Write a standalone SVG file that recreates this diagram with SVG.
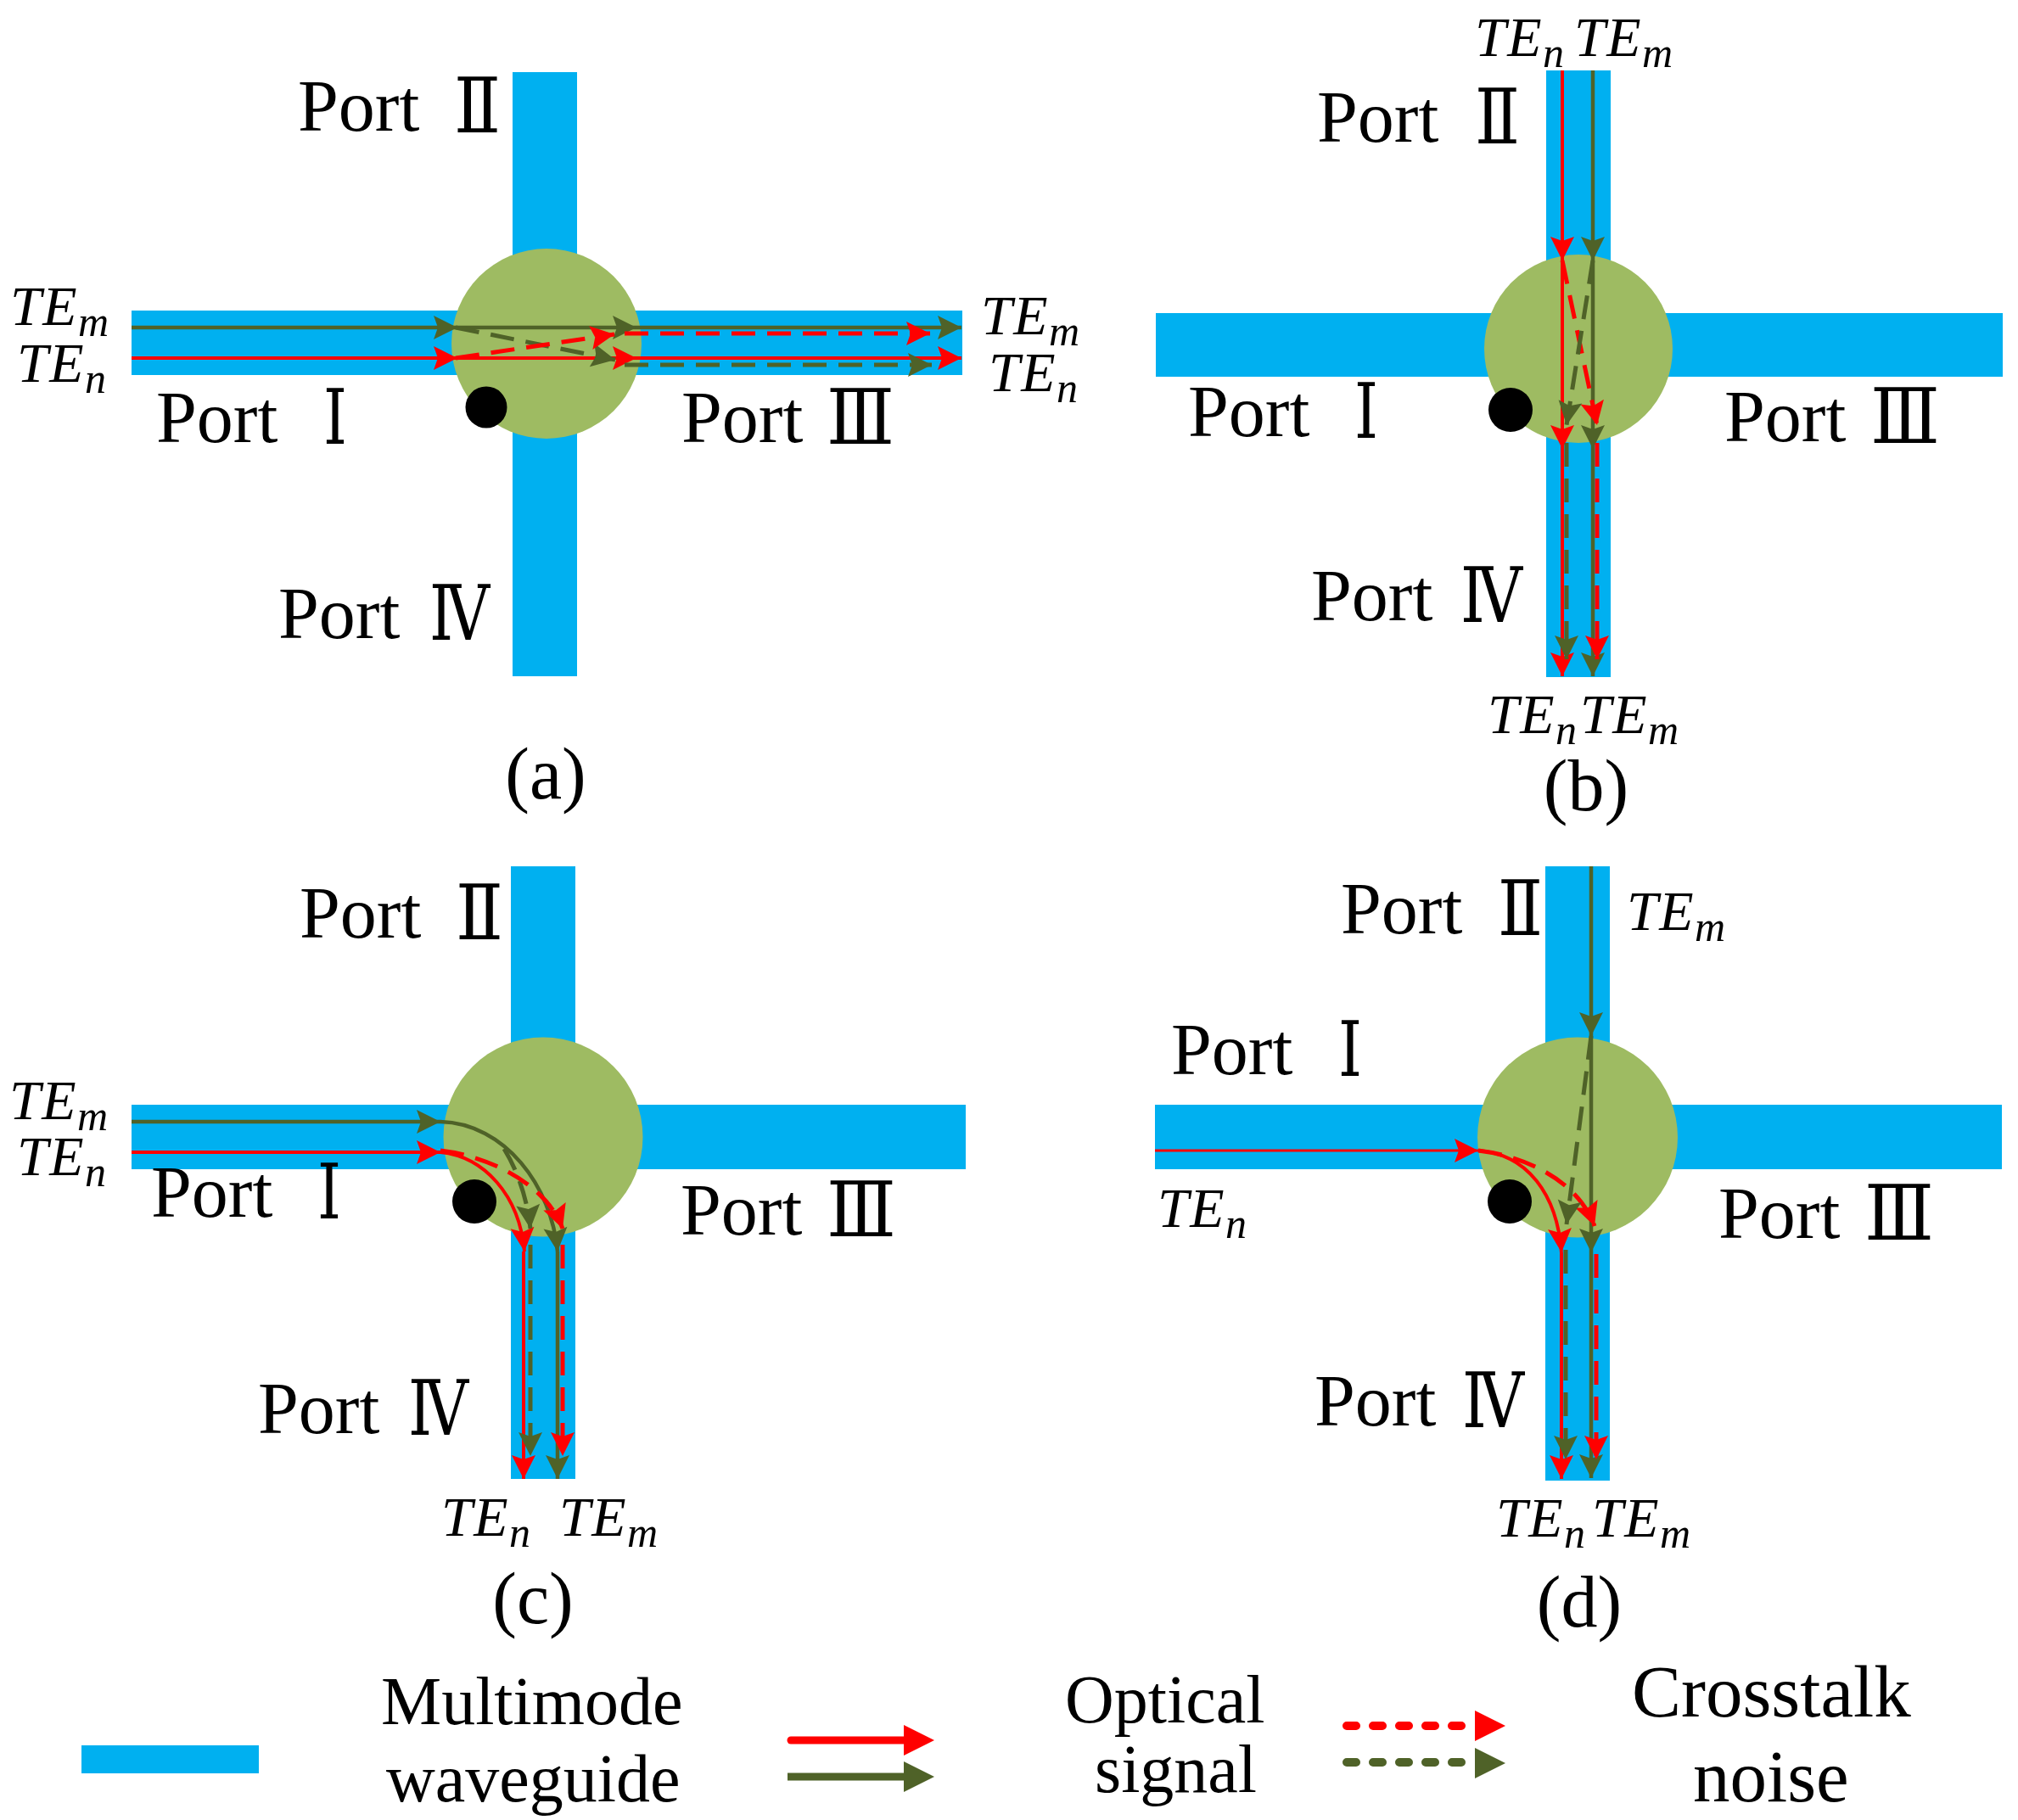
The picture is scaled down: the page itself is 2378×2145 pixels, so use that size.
<svg xmlns="http://www.w3.org/2000/svg" width="2378" height="2145" viewBox="0 0 2378 2145">
<style>
.wg{fill:#00B0F0}
.ring{fill:#9EBB62}
.dot{fill:#000}
.p{font-family:"Liberation Serif","Times New Roman",serif;font-size:86px;fill:#000}
.n{font-family:"DejaVu Serif","Liberation Serif",serif;font-size:90px;fill:#000}
.l{font-family:"Liberation Serif","Times New Roman",serif;font-size:80px;fill:#000}
.lb{font-size:87px}
.t{font-family:"Liberation Serif","Times New Roman",serif;font-style:italic;font-size:66px;letter-spacing:1.5px;fill:#000}
.s{font-size:50px}
.c{fill:none}
.r{stroke:#FF0000;stroke-width:4}
.g{stroke:#4F6228;stroke-width:4.5}
.rd{stroke:#FF0000;stroke-width:5;stroke-dasharray:28 14}
.gd{stroke:#4F6228;stroke-width:5;stroke-dasharray:28 14}
.ra{marker-end:url(#hr)}
.ga{marker-end:url(#hg)}
</style>
<defs>
<marker id="hr" markerUnits="userSpaceOnUse" markerWidth="32" markerHeight="30" refX="28" refY="15" orient="auto" overflow="visible"><path d="M0,1 L28,15 L0,29 L5,15Z" fill="#FF0000"/></marker>
<marker id="hg" markerUnits="userSpaceOnUse" markerWidth="32" markerHeight="30" refX="28" refY="15" orient="auto" overflow="visible"><path d="M0,1 L28,15 L0,29 L5,15Z" fill="#4F6228"/></marker>
<marker id="lr" markerUnits="userSpaceOnUse" markerWidth="40" markerHeight="40" refX="0" refY="18" orient="auto" overflow="visible"><path d="M0,0 L36,18 L0,36 Z" fill="#FF0000"/></marker>
<marker id="lg" markerUnits="userSpaceOnUse" markerWidth="40" markerHeight="40" refX="0" refY="18" orient="auto" overflow="visible"><path d="M0,0 L36,18 L0,36 Z" fill="#4F6228"/></marker>
</defs>
<rect width="2378" height="2145" fill="#fff"/>

<g id="panel-a-crossing">
<rect class="wg" x="155" y="366" width="979" height="76"/>
<rect class="wg" x="604" y="85" width="76" height="712"/>
<circle class="ring" cx="644" cy="405" r="112"/>
<circle class="dot" cx="573" cy="480" r="24.5"/>
</g>
<g id="panel-b-crossing">
<rect class="wg" x="1362" y="369" width="998" height="75"/>
<rect class="wg" x="1822" y="83" width="76" height="715"/>
<circle class="ring" cx="1860" cy="411" r="111"/>
<circle class="dot" cx="1780" cy="483" r="26"/>
</g>
<g id="panel-c-crossing">
<rect class="wg" x="155" y="1302" width="983" height="76"/>
<rect class="wg" x="602" y="1021" width="76" height="722"/>
<circle class="ring" cx="640" cy="1340" r="117.5"/>
<circle class="dot" cx="559" cy="1416" r="26"/>
</g>
<g id="panel-d-crossing">
<rect class="wg" x="1361" y="1302" width="998" height="76"/>
<rect class="wg" x="1821" y="1021" width="76" height="724"/>
<circle class="ring" cx="1859" cy="1340.5" r="118"/>
<circle class="dot" cx="1779" cy="1416" r="26"/>
</g>

<g id="connectors">
<g class="c">
<path class="g ga" d="M155,386H539"/><path class="g ga" d="M539,386H750"/><path class="g ga" d="M750,386H1133"/>
<path class="r ra" d="M155,422H539"/><path class="r ra" d="M539,422H750"/><path class="r ra" d="M750,422H1133"/>
<path class="gd ga" d="M537,386L725,424"/><path class="rd ra" d="M537,422L724,394"/>
<path class="rd ra" d="M736,393H1096"/><path class="gd ga" d="M736,430H1098"/>

<path class="r ra" d="M1841,83V307"/><path class="r ra" d="M1841,307V529"/><path class="r ra" d="M1841,529V797"/>
<path class="g ga" d="M1877,83V307"/><path class="g ga" d="M1877,307V529"/><path class="g ga" d="M1877,529V797"/>
<path class="rd ra" d="M1841,307L1882,501"/><path class="gd ga" d="M1877,307L1846,501"/>
<path class="gd ga" d="M1846,522V777"/><path class="rd ra" d="M1882,522V777"/>

<path class="g ga" d="M155,1322H519"/><path class="r ra" d="M155,1358H519"/>
<path class="g ga" d="M519,1322C595,1324 650,1398 657,1475"/><path class="g ga" d="M657,1475V1743"/>
<path class="r ra" d="M519,1358C570,1363 612,1408 618,1475"/><path class="r ra" d="M617,1475V1743"/>
<path class="gd ga" d="M594,1354C612,1383 622,1418 625,1448"/><path class="gd ga" d="M625,1467V1716"/>
<path class="rd ra" d="M519,1356C580,1363 645,1398 663,1448"/><path class="rd ra" d="M663,1467V1716"/>

<path class="g ga" d="M1875,1021V1221"/><path class="g ga" d="M1875,1221V1476"/><path class="g ga" d="M1875,1476V1742"/>
<path class="r ra" style="stroke-width:3" d="M1361,1356H1742"/>
<path class="r ra" d="M1742,1356C1800,1360 1835,1408 1840,1476"/><path class="r ra" d="M1840,1476V1743"/>
<path class="rd ra" d="M1742,1356C1800,1363 1860,1393 1879,1445"/><path class="rd ra" d="M1881,1478V1720"/>
<path class="gd ga" d="M1875,1221L1846,1443"/><path class="gd ga" d="M1845,1473V1720"/>

<path stroke="#FF0000" stroke-width="9" stroke-linecap="round" marker-end="url(#lr)" d="M932,2051H1065"/>
<path stroke="#4F6228" stroke-width="9" marker-end="url(#lg)" d="M928,2094H1065"/>
<path stroke="#FF0000" stroke-width="10" stroke-linecap="round" stroke-dasharray="11 20" d="M1587,2034H1727"/>
<path stroke="#4F6228" stroke-width="10" stroke-linecap="round" stroke-dasharray="11 20" d="M1587,2077H1727"/>
<path stroke="#FF0000" stroke-width="0" marker-end="url(#lr)" d="M1727,2034H1738"/>
<path stroke="#4F6228" stroke-width="0" marker-end="url(#lg)" d="M1727,2078H1738"/>
</g>
</g>

<g id="legend-swatch"><rect class="wg" x="96" y="2057" width="209" height="33"/></g>

<g id="labels-a">
<text class="p" x="351" y="154">Port</text><text class="n" x="535" y="156" textLength="55" lengthAdjust="spacingAndGlyphs">Ⅱ</text>
<text class="p" x="184" y="521">Port</text><text class="n" x="381" y="523" textLength="28" lengthAdjust="spacingAndGlyphs">Ⅰ</text>
<text class="p" x="803" y="521">Port</text><text class="n" x="974" y="523" textLength="80" lengthAdjust="spacingAndGlyphs">Ⅲ</text>
<text class="p" x="328" y="752">Port</text><text class="n" x="506" y="754" textLength="71" lengthAdjust="spacingAndGlyphs">Ⅳ</text>
<text class="t" x="12" y="383">TE<tspan class="s" dy="13">m</tspan></text>
<text class="t" x="20" y="450">TE<tspan class="s" dy="13">n</tspan></text>
<text class="t" x="1156" y="394">TE<tspan class="s" dy="13">m</tspan></text>
<text class="t" x="1165" y="461">TE<tspan class="s" dy="13">n</tspan></text>
<text class="p" x="643" y="941" text-anchor="middle">(a)</text>
</g>
<g id="labels-b">
<text class="p" x="1552" y="167">Port</text><text class="n" x="1738" y="169" textLength="53" lengthAdjust="spacingAndGlyphs">Ⅱ</text>
<text class="p" x="1400" y="514">Port</text><text class="n" x="1596" y="516" textLength="28" lengthAdjust="spacingAndGlyphs">Ⅰ</text>
<text class="p" x="2032" y="520">Port</text><text class="n" x="2204" y="522" textLength="82" lengthAdjust="spacingAndGlyphs">Ⅲ</text>
<text class="p" x="1545" y="731">Port</text><text class="n" x="1721" y="733" textLength="73" lengthAdjust="spacingAndGlyphs">Ⅳ</text>
<text class="t" x="1738" y="66">TE<tspan class="s" dy="13">n</tspan></text>
<text class="t" x="1855" y="66">TE<tspan class="s" dy="13">m</tspan></text>
<text class="t" x="1753" y="864">TE<tspan class="s" dy="13">n</tspan></text>
<text class="t" x="1862" y="864">TE<tspan class="s" dy="13">m</tspan></text>
<text class="p" x="1869" y="955" text-anchor="middle">(b)</text>
</g>
<g id="labels-c">
<text class="p" x="353" y="1105">Port</text><text class="n" x="537" y="1107" textLength="56" lengthAdjust="spacingAndGlyphs">Ⅱ</text>
<text class="p" x="178" y="1434">Port</text><text class="n" x="374" y="1436" textLength="28" lengthAdjust="spacingAndGlyphs">Ⅰ</text>
<text class="p" x="802" y="1455">Port</text><text class="n" x="974" y="1457" textLength="82" lengthAdjust="spacingAndGlyphs">Ⅲ</text>
<text class="p" x="304" y="1689">Port</text><text class="n" x="481" y="1691" textLength="71" lengthAdjust="spacingAndGlyphs">Ⅳ</text>
<text class="t" x="11" y="1319">TE<tspan class="s" dy="13">m</tspan></text>
<text class="t" x="20" y="1385">TE<tspan class="s" dy="13">n</tspan></text>
<text class="t" x="520" y="1810">TE<tspan class="s" dy="13">n</tspan></text>
<text class="t" x="659" y="1810">TE<tspan class="s" dy="13">m</tspan></text>
<text class="p" x="628" y="1913" text-anchor="middle">(c)</text>
</g>
<g id="labels-d">
<text class="p" x="1580" y="1100">Port</text><text class="n" x="1765" y="1102" textLength="53" lengthAdjust="spacingAndGlyphs">Ⅱ</text>
<text class="p" x="1380" y="1266">Port</text><text class="n" x="1577" y="1268" textLength="28" lengthAdjust="spacingAndGlyphs">Ⅰ</text>
<text class="p" x="2025" y="1459">Port</text><text class="n" x="2197" y="1461" textLength="82" lengthAdjust="spacingAndGlyphs">Ⅲ</text>
<text class="p" x="1549" y="1680">Port</text><text class="n" x="1723" y="1682" textLength="73" lengthAdjust="spacingAndGlyphs">Ⅳ</text>
<text class="t" x="1917" y="1096">TE<tspan class="s" dy="13">m</tspan></text>
<text class="t" x="1364" y="1446">TE<tspan class="s" dy="13">n</tspan></text>
<text class="t" x="1763" y="1811">TE<tspan class="s" dy="13">n</tspan></text>
<text class="t" x="1876" y="1811">TE<tspan class="s" dy="13">m</tspan></text>
<text class="p" x="1861" y="1917" text-anchor="middle">(d)</text>
</g>
<g id="legend-labels">
<text class="l" x="449" y="2032">Multimode</text>
<text class="l" x="455" y="2123">waveguide</text>
<text class="l" x="1255" y="2030">Optical</text>
<text class="l" x="1290" y="2112">signal</text>
<text class="l lb" x="1923" y="2023">Crosstalk</text>
<text class="l lb" x="1995" y="2123">noise</text>
</g>
</svg>
